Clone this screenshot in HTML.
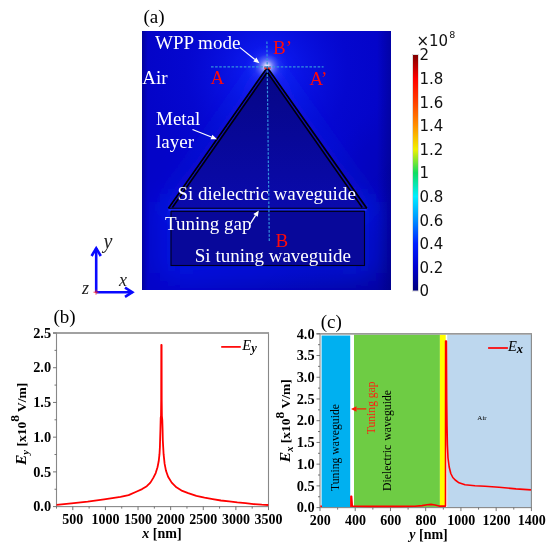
<!DOCTYPE html>
<html><head><meta charset="utf-8"><style>
html,body{margin:0;padding:0;background:#fff;}
body{width:550px;height:549px;overflow:hidden;}
svg{display:block;}
text{font-family:"Liberation Serif",serif;}
.dv{font-family:"DejaVu Sans",sans-serif;}
</style></head><body>
<svg width="550" height="549" viewBox="0 0 550 549">
<defs>
<linearGradient id="cbar" x1="0" y1="1" x2="0" y2="0">
<stop offset="0" stop-color="#00007a"/>
<stop offset="0.1" stop-color="#0000d0"/>
<stop offset="0.2" stop-color="#0020ff"/>
<stop offset="0.3" stop-color="#0090ff"/>
<stop offset="0.4" stop-color="#00eeff"/>
<stop offset="0.5" stop-color="#10dd60"/>
<stop offset="0.6" stop-color="#f0f000"/>
<stop offset="0.7" stop-color="#ff9000"/>
<stop offset="0.8" stop-color="#ff4000"/>
<stop offset="0.9" stop-color="#ff0000"/>
<stop offset="1" stop-color="#800000"/>
</linearGradient>
<radialGradient id="glow" cx="267" cy="66.5" r="22" gradientUnits="userSpaceOnUse">
<stop offset="0" stop-color="#ffffff" stop-opacity="0.97"/>
<stop offset="0.1" stop-color="#f0f0ff" stop-opacity="0.85"/>
<stop offset="0.3" stop-color="#b0b8ff" stop-opacity="0.5"/>
<stop offset="0.58" stop-color="#5060ff" stop-opacity="0.2"/>
<stop offset="1" stop-color="#2030ff" stop-opacity="0"/>
</radialGradient>
<radialGradient id="bgR" cx="267" cy="72" r="125" gradientUnits="userSpaceOnUse">
<stop offset="0" stop-color="#1428ff" stop-opacity="0.95"/>
<stop offset="0.3" stop-color="#0c1cf4" stop-opacity="0.6"/>
<stop offset="0.65" stop-color="#0810e4" stop-opacity="0.25"/>
<stop offset="1" stop-color="#0410e0" stop-opacity="0"/>
</radialGradient>
<linearGradient id="bgDR" x1="142" y1="31" x2="391" y2="290" gradientUnits="userSpaceOnUse">
<stop offset="0" stop-color="#000060" stop-opacity="0"/>
<stop offset="0.6" stop-color="#000060" stop-opacity="0"/>
<stop offset="1" stop-color="#000050" stop-opacity="0.35"/>
</linearGradient>
<linearGradient id="edgeL" x1="0" y1="0" x2="1" y2="0">
<stop offset="0" stop-color="#000070" stop-opacity="0.5"/>
<stop offset="1" stop-color="#000070" stop-opacity="0"/>
</linearGradient>
<linearGradient id="edgeR" x1="0" y1="0" x2="1" y2="0">
<stop offset="0" stop-color="#000070" stop-opacity="0"/>
<stop offset="1" stop-color="#000070" stop-opacity="0.4"/>
</linearGradient>
<filter id="blur8" x="-50%" y="-50%" width="200%" height="200%"><feGaussianBlur stdDeviation="14"/></filter>
<filter id="blur4" x="-50%" y="-50%" width="200%" height="200%"><feGaussianBlur stdDeviation="5"/></filter>
<clipPath id="clipA"><rect x="142" y="31" width="249" height="259"/></clipPath>
<linearGradient id="triIn" x1="0" y1="0" x2="0" y2="1">
<stop offset="0" stop-color="#060684"/>
<stop offset="1" stop-color="#0a0aac"/>
</linearGradient>
</defs>

<text x="143.4" y="22.6" font-size="19" fill="#000">(a)</text>
<g clip-path="url(#clipA)">
<rect x="142" y="31" width="249" height="259" fill="#0404c8"/>
<rect x="142" y="31" width="249" height="259" fill="url(#bgR)"/>
<rect x="142" y="31" width="249" height="259" fill="url(#bgDR)"/>
<rect x="142" y="31" width="6" height="259" fill="url(#edgeL)"/>
<rect x="377" y="31" width="14" height="259" fill="url(#edgeR)"/>
<path d="M168.5,208.2 L267.3,67.4 L366.8,208.2 Z" fill="none" stroke="#1424f0" stroke-width="18" stroke-opacity="0.38" filter="url(#blur8)"/>
<rect x="171" y="209" width="194" height="57" fill="none" stroke="#1020f0" stroke-width="14" filter="url(#blur8)"/>
<circle cx="267" cy="66.5" r="22" fill="url(#glow)"/>
<path d="M168.5,208.2 L267.3,67.4 L366.8,208.2 Z" fill="url(#triIn)"/>
<rect x="171" y="211" width="193.5" height="54.5" fill="#08089a" stroke="#000020" stroke-width="1.1"/>
<rect x="168.5" y="208.6" width="198" height="2.2" fill="#1a2aff"/>
<path d="M168.5,208.2 L267.3,67.4 L366.8,208.2" fill="none" stroke="#000008" stroke-width="1.7"/>
<path d="M170.43,207.8 L267.3,69.75 L364.17,207.8" fill="none" stroke="#1010c0" stroke-width="0.9"/>
<path d="M172.41,207.5 L267.3,72.27 L362.19,207.5" fill="none" stroke="#000008" stroke-width="1.5"/>
<line x1="168.5" y1="208.2" x2="366.8" y2="208.2" stroke="#000010" stroke-width="1.1"/>
<line x1="171" y1="211.2" x2="364.5" y2="211.2" stroke="#000010" stroke-width="1"/>
</g>
<circle cx="265.4" cy="68" r="1.4" fill="#ff3030" opacity="0.9"/><circle cx="269.4" cy="68" r="1.4" fill="#ff3030" opacity="0.9"/>
<line x1="211" y1="66.9" x2="323.6" y2="66.9" stroke="#3492de" stroke-width="1.2" stroke-dasharray="2.6 1.5"/>
<line x1="266.9" y1="41.5" x2="269.3" y2="242.6" stroke="#3492de" stroke-width="1.2" stroke-dasharray="2.6 1.5"/>
<text x="155" y="49" font-size="19" fill="#fff">WPP mode</text>
<text x="142.3" y="84.2" font-size="19" fill="#fff">Air</text>
<text x="210.5" y="84.4" font-size="19" fill="#ff0a0a">A</text>
<text x="309.5" y="84.6" font-size="19" fill="#ff0a0a">A’</text>
<text x="273" y="54" font-size="19" fill="#ff0a0a">B’</text>
<text x="275.6" y="247" font-size="19" fill="#ff0a0a">B</text>
<text x="156" y="124.5" font-size="19" fill="#fff">Metal</text>
<text x="156" y="147.5" font-size="19" fill="#fff">layer</text>
<text x="177.5" y="199.6" font-size="19" fill="#fff">Si dielectric waveguide</text>
<text x="165" y="230" font-size="19" fill="#fff">Tuning gap</text>
<text x="194.8" y="261.8" font-size="19" fill="#fff">Si tuning waveguide</text>
<line x1="239.8" y1="47.4" x2="254.83" y2="59.53" stroke="#fff" stroke-width="1.2"/><path d="M259.5,63.3 L253.26,61.48 L256.40,57.59 Z" fill="#fff"/>
<line x1="192.5" y1="129.5" x2="211.42" y2="136.99" stroke="#fff" stroke-width="1.2"/><path d="M217,139.2 L210.50,139.32 L212.34,134.67 Z" fill="#fff"/>
<line x1="250.2" y1="224" x2="255.59" y2="215.47" stroke="#fff" stroke-width="1.3"/><path d="M258.8,210.4 L257.79,216.86 L253.40,214.08 Z" fill="#fff"/>
<g stroke="#0a0aff" stroke-width="2.6" fill="none" stroke-linecap="butt">
<line x1="96.2" y1="292.5" x2="96.2" y2="248"/>
<polyline points="91.6,256 96.2,248.3 100.8,256"/>
<line x1="96.2" y1="292.2" x2="132.5" y2="292.2"/>
<polyline points="125,287.6 132.3,292.2 125,296.8"/>
</g>
<path d="M93.5,292.2h5M96,289.7v5" stroke="#ff2020" stroke-width="0.8"/>
<text x="103.5" y="247.5" font-size="20" font-style="italic" fill="#222">y</text>
<text x="119" y="286" font-size="18" font-style="italic" fill="#222">x</text>
<text x="82" y="293.5" font-size="18" font-style="italic" fill="#222">z</text>
<rect x="413" y="55" width="5" height="235.7" fill="url(#cbar)"/>
<rect x="412.6" y="54.6" width="5.8" height="236.5" fill="none" stroke="#c8c8c8" stroke-width="0.6"/>
<text class="dv" x="419.5" y="60.40" font-size="15" fill="#111">2</text>
<text class="dv" x="419.5" y="84.00" font-size="15" fill="#111">1.8</text>
<text class="dv" x="419.5" y="107.60" font-size="15" fill="#111">1.6</text>
<text class="dv" x="419.5" y="131.20" font-size="15" fill="#111">1.4</text>
<text class="dv" x="419.5" y="154.80" font-size="15" fill="#111">1.2</text>
<text class="dv" x="419.5" y="178.40" font-size="15" fill="#111">1</text>
<text class="dv" x="419.5" y="202.00" font-size="15" fill="#111">0.8</text>
<text class="dv" x="419.5" y="225.60" font-size="15" fill="#111">0.6</text>
<text class="dv" x="419.5" y="249.20" font-size="15" fill="#111">0.4</text>
<text class="dv" x="419.5" y="272.80" font-size="15" fill="#111">0.2</text>
<text class="dv" x="419.5" y="296.40" font-size="15" fill="#111">0</text>
<text class="dv" x="416.5" y="45.5" font-size="15" fill="#111">×10<tspan x="449.3" y="37.8" font-size="9.5">8</tspan></text>
<text x="53.5" y="322.5" font-size="19" fill="#000">(b)</text>
<rect x="56.5" y="333.0" width="212.0" height="173.60000000000002" fill="none" stroke="#888" stroke-width="1.1"/>
<line x1="53.0" y1="333.0" x2="269.0" y2="333.0" stroke="#999" stroke-width="1.7"/>
<line x1="53.0" y1="506.60" x2="56.5" y2="506.60" stroke="#666" stroke-width="0.9"/>
<line x1="54.5" y1="489.24" x2="56.5" y2="489.24" stroke="#666" stroke-width="0.9"/>
<line x1="53.0" y1="471.88" x2="56.5" y2="471.88" stroke="#666" stroke-width="0.9"/>
<line x1="54.5" y1="454.52" x2="56.5" y2="454.52" stroke="#666" stroke-width="0.9"/>
<line x1="53.0" y1="437.16" x2="56.5" y2="437.16" stroke="#666" stroke-width="0.9"/>
<line x1="54.5" y1="419.80" x2="56.5" y2="419.80" stroke="#666" stroke-width="0.9"/>
<line x1="53.0" y1="402.44" x2="56.5" y2="402.44" stroke="#666" stroke-width="0.9"/>
<line x1="54.5" y1="385.08" x2="56.5" y2="385.08" stroke="#666" stroke-width="0.9"/>
<line x1="53.0" y1="367.72" x2="56.5" y2="367.72" stroke="#666" stroke-width="0.9"/>
<line x1="54.5" y1="350.36" x2="56.5" y2="350.36" stroke="#666" stroke-width="0.9"/>
<line x1="53.0" y1="333.00" x2="56.5" y2="333.00" stroke="#666" stroke-width="0.9"/>
<text x="51.1" y="511.30" font-size="14.3" font-weight="bold" text-anchor="end">0.0</text>
<text x="51.1" y="476.58" font-size="14.3" font-weight="bold" text-anchor="end">0.5</text>
<text x="51.1" y="441.86" font-size="14.3" font-weight="bold" text-anchor="end">1.0</text>
<text x="51.1" y="407.14" font-size="14.3" font-weight="bold" text-anchor="end">1.5</text>
<text x="51.1" y="372.42" font-size="14.3" font-weight="bold" text-anchor="end">2.0</text>
<text x="51.1" y="337.70" font-size="14.3" font-weight="bold" text-anchor="end">2.5</text>
<line x1="56.50" y1="506.6" x2="56.50" y2="508.6" stroke="#666" stroke-width="0.9"/>
<line x1="72.81" y1="506.6" x2="72.81" y2="510.1" stroke="#666" stroke-width="0.9"/>
<line x1="89.12" y1="506.6" x2="89.12" y2="508.6" stroke="#666" stroke-width="0.9"/>
<line x1="105.42" y1="506.6" x2="105.42" y2="510.1" stroke="#666" stroke-width="0.9"/>
<line x1="121.73" y1="506.6" x2="121.73" y2="508.6" stroke="#666" stroke-width="0.9"/>
<line x1="138.04" y1="506.6" x2="138.04" y2="510.1" stroke="#666" stroke-width="0.9"/>
<line x1="154.35" y1="506.6" x2="154.35" y2="508.6" stroke="#666" stroke-width="0.9"/>
<line x1="170.65" y1="506.6" x2="170.65" y2="510.1" stroke="#666" stroke-width="0.9"/>
<line x1="186.96" y1="506.6" x2="186.96" y2="508.6" stroke="#666" stroke-width="0.9"/>
<line x1="203.27" y1="506.6" x2="203.27" y2="510.1" stroke="#666" stroke-width="0.9"/>
<line x1="219.58" y1="506.6" x2="219.58" y2="508.6" stroke="#666" stroke-width="0.9"/>
<line x1="235.88" y1="506.6" x2="235.88" y2="510.1" stroke="#666" stroke-width="0.9"/>
<line x1="252.19" y1="506.6" x2="252.19" y2="508.6" stroke="#666" stroke-width="0.9"/>
<line x1="268.50" y1="506.6" x2="268.50" y2="510.1" stroke="#666" stroke-width="0.9"/>
<text x="72.81" y="524.2" font-size="14" font-weight="bold" text-anchor="middle">500</text>
<text x="105.42" y="524.2" font-size="14" font-weight="bold" text-anchor="middle">1000</text>
<text x="138.04" y="524.2" font-size="14" font-weight="bold" text-anchor="middle">1500</text>
<text x="170.65" y="524.2" font-size="14" font-weight="bold" text-anchor="middle">2000</text>
<text x="203.27" y="524.2" font-size="14" font-weight="bold" text-anchor="middle">2500</text>
<text x="235.88" y="524.2" font-size="14" font-weight="bold" text-anchor="middle">3000</text>
<text x="268.50" y="524.2" font-size="14" font-weight="bold" text-anchor="middle">3500</text>
<text x="162" y="538.2" font-size="14" font-weight="bold" text-anchor="middle"><tspan font-style="italic">x</tspan> [nm]</text>
<text transform="translate(25.7,465.0) rotate(-90)" font-size="13.5" font-weight="bold"><tspan font-style="italic" font-size="15.5">E</tspan><tspan font-style="italic" font-size="10.5" dy="3.2">y</tspan><tspan dy="-3.2"> [x10</tspan><tspan dy="-6.3">8</tspan><tspan dy="6.3"> V/m]</tspan></text>
<polyline points="56.6,504.9 71.4,503.4 87.7,501.6 104.1,499.4 120.5,496.9 128.6,495.1 136.8,491.5 142.1,489.1 146.8,486.2 150.4,482.6 153.3,477.9 155.7,473.1 157.5,467.2 158.7,461.3 159.5,454.2 159.9,447.1 160.1,440 160.4,430 160.7,418 161.0,416 161.2,400 161.3,345 161.6,345 161.7,400 161.9,416 162.3,420 162.6,430 162.8,440 163.2,447.1 163.6,454.2 164.6,463.7 166,470.8 168.1,476.7 171.7,482.6 176.4,487.3 182.3,490.9 188.2,493.1 196.4,495.9 204.5,497.7 212.7,499.1 220.9,500.5 229.1,501.4 237.3,502.4 245.5,503.2 253.6,504.1 261.8,504.7 268.3,505" fill="none" stroke="#ff0000" stroke-width="1.8" stroke-linejoin="round"/>
<line x1="221.2" y1="346.9" x2="240.8" y2="346.9" stroke="#ff0000" stroke-width="1.7"/>
<text x="242.3" y="349.8" font-size="14.5" font-style="italic">E<tspan font-size="12.5" font-weight="bold" dy="2.6">y</tspan></text>
<text x="320.7" y="327.6" font-size="19">(c)</text>
<rect x="321.6" y="335.5" width="28.6" height="172.10000000000002" fill="#00b0f0"/>
<rect x="354" y="334.6" width="85.9" height="173.0" fill="#6ecc44"/>
<rect x="439.9" y="334.6" width="5.8" height="173.0" fill="#ffff00"/>
<rect x="447.2" y="334.6" width="84.19999999999999" height="173.0" fill="#bdd7ee"/>
<rect x="320" y="333.8" width="211.39999999999998" height="173.8" fill="none" stroke="#888" stroke-width="1.1"/>
<line x1="316.5" y1="333.8" x2="531.9" y2="333.8" stroke="#999" stroke-width="1.5"/>
<line x1="316.5" y1="507.60" x2="320" y2="507.60" stroke="#666" stroke-width="0.9"/>
<line x1="318" y1="496.74" x2="320" y2="496.74" stroke="#666" stroke-width="0.9"/>
<line x1="316.5" y1="485.88" x2="320" y2="485.88" stroke="#666" stroke-width="0.9"/>
<line x1="318" y1="475.01" x2="320" y2="475.01" stroke="#666" stroke-width="0.9"/>
<line x1="316.5" y1="464.15" x2="320" y2="464.15" stroke="#666" stroke-width="0.9"/>
<line x1="318" y1="453.29" x2="320" y2="453.29" stroke="#666" stroke-width="0.9"/>
<line x1="316.5" y1="442.43" x2="320" y2="442.43" stroke="#666" stroke-width="0.9"/>
<line x1="318" y1="431.56" x2="320" y2="431.56" stroke="#666" stroke-width="0.9"/>
<line x1="316.5" y1="420.70" x2="320" y2="420.70" stroke="#666" stroke-width="0.9"/>
<line x1="318" y1="409.84" x2="320" y2="409.84" stroke="#666" stroke-width="0.9"/>
<line x1="316.5" y1="398.98" x2="320" y2="398.98" stroke="#666" stroke-width="0.9"/>
<line x1="318" y1="388.11" x2="320" y2="388.11" stroke="#666" stroke-width="0.9"/>
<line x1="316.5" y1="377.25" x2="320" y2="377.25" stroke="#666" stroke-width="0.9"/>
<line x1="318" y1="366.39" x2="320" y2="366.39" stroke="#666" stroke-width="0.9"/>
<line x1="316.5" y1="355.52" x2="320" y2="355.52" stroke="#666" stroke-width="0.9"/>
<line x1="318" y1="344.66" x2="320" y2="344.66" stroke="#666" stroke-width="0.9"/>
<line x1="316.5" y1="333.80" x2="320" y2="333.80" stroke="#666" stroke-width="0.9"/>
<text x="314.6" y="512.30" font-size="14.3" font-weight="bold" text-anchor="end">0.0</text>
<text x="314.6" y="490.57" font-size="14.3" font-weight="bold" text-anchor="end">0.5</text>
<text x="314.6" y="468.85" font-size="14.3" font-weight="bold" text-anchor="end">1.0</text>
<text x="314.6" y="447.12" font-size="14.3" font-weight="bold" text-anchor="end">1.5</text>
<text x="314.6" y="425.40" font-size="14.3" font-weight="bold" text-anchor="end">2.0</text>
<text x="314.6" y="403.68" font-size="14.3" font-weight="bold" text-anchor="end">2.5</text>
<text x="314.6" y="381.95" font-size="14.3" font-weight="bold" text-anchor="end">3.0</text>
<text x="314.6" y="360.22" font-size="14.3" font-weight="bold" text-anchor="end">3.5</text>
<text x="314.6" y="338.50" font-size="14.3" font-weight="bold" text-anchor="end">4.0</text>
<line x1="320.00" y1="507.6" x2="320.00" y2="511.1" stroke="#666" stroke-width="0.9"/>
<line x1="337.62" y1="507.6" x2="337.62" y2="509.6" stroke="#666" stroke-width="0.9"/>
<line x1="355.23" y1="507.6" x2="355.23" y2="511.1" stroke="#666" stroke-width="0.9"/>
<line x1="372.85" y1="507.6" x2="372.85" y2="509.6" stroke="#666" stroke-width="0.9"/>
<line x1="390.47" y1="507.6" x2="390.47" y2="511.1" stroke="#666" stroke-width="0.9"/>
<line x1="408.08" y1="507.6" x2="408.08" y2="509.6" stroke="#666" stroke-width="0.9"/>
<line x1="425.70" y1="507.6" x2="425.70" y2="511.1" stroke="#666" stroke-width="0.9"/>
<line x1="443.32" y1="507.6" x2="443.32" y2="509.6" stroke="#666" stroke-width="0.9"/>
<line x1="460.93" y1="507.6" x2="460.93" y2="511.1" stroke="#666" stroke-width="0.9"/>
<line x1="478.55" y1="507.6" x2="478.55" y2="509.6" stroke="#666" stroke-width="0.9"/>
<line x1="496.17" y1="507.6" x2="496.17" y2="511.1" stroke="#666" stroke-width="0.9"/>
<line x1="513.78" y1="507.6" x2="513.78" y2="509.6" stroke="#666" stroke-width="0.9"/>
<line x1="531.40" y1="507.6" x2="531.40" y2="511.1" stroke="#666" stroke-width="0.9"/>
<text x="320.30" y="524.6" font-size="14" font-weight="bold" text-anchor="middle">200</text>
<text x="355.53" y="524.6" font-size="14" font-weight="bold" text-anchor="middle">400</text>
<text x="390.77" y="524.6" font-size="14" font-weight="bold" text-anchor="middle">600</text>
<text x="426.00" y="524.6" font-size="14" font-weight="bold" text-anchor="middle">800</text>
<text x="461.23" y="524.6" font-size="14" font-weight="bold" text-anchor="middle">1000</text>
<text x="496.47" y="524.6" font-size="14" font-weight="bold" text-anchor="middle">1200</text>
<text x="531.70" y="524.6" font-size="14" font-weight="bold" text-anchor="middle">1400</text>
<text x="428.5" y="539" font-size="14" font-weight="bold" text-anchor="middle"><tspan font-style="italic">y</tspan> [nm]</text>
<text transform="translate(290.2,462.2) rotate(-90)" font-size="13.5" font-weight="bold"><tspan font-style="italic" font-size="15.5">E</tspan><tspan font-style="italic" font-size="10.5" dy="3.2">x</tspan><tspan dy="-3.2"> [x10</tspan><tspan dy="-6.3">8</tspan><tspan dy="6.3"> V/m]</tspan></text>
<text transform="translate(338.6,447.5) rotate(-90)" font-size="11.7" text-anchor="middle" fill="#000">Tuning waveguide</text>
<text transform="translate(391.3,440.5) rotate(-90)" font-size="11.7" text-anchor="middle" fill="#000" word-spacing="1.2">Dielectric waveguide</text>
<text transform="translate(375.3,407.8) rotate(-90)" font-size="11.6" text-anchor="middle" fill="#ff1e10">Tuning gap</text>
<line x1="366.3" y1="408.9" x2="356.50" y2="408.90" stroke="#ff1a00" stroke-width="1.2"/><path d="M351,408.9 L356.50,406.15 L356.50,411.65 Z" fill="#ff1a00"/>
<text x="482" y="420" font-size="7" text-anchor="middle">Air</text>
<polyline points="320.3,506.3 322,506.3" stroke="#ff0000" stroke-width="1.6"/>
<polyline points="350.9,507 350.9,496.4 351.6,496.4 352.3,506.2 370,506.4 400,506.4 415,506.2 422,505.6 427,504.8 431,504.4 435,505 439,506.1 445.5,506.1 445.6,341 446.4,341 446.7,400 447.0,425 447.4,445 448.0,458 449.2,467 450.8,473.5 452.8,477.5 455.2,480 459,482.8 465,484.8 475,485.8 485,486.3 499,487.2 516,488.9 531,489.9" fill="none" stroke="#ff0000" stroke-width="1.6" stroke-linejoin="round"/>
<line x1="488.1" y1="348" x2="507.9" y2="348" stroke="#ff0000" stroke-width="1.7"/>
<text x="508" y="350.6" font-size="14.5" font-style="italic">E<tspan font-size="12.5" font-weight="bold" dy="2.8">x</tspan></text>
</svg></body></html>
